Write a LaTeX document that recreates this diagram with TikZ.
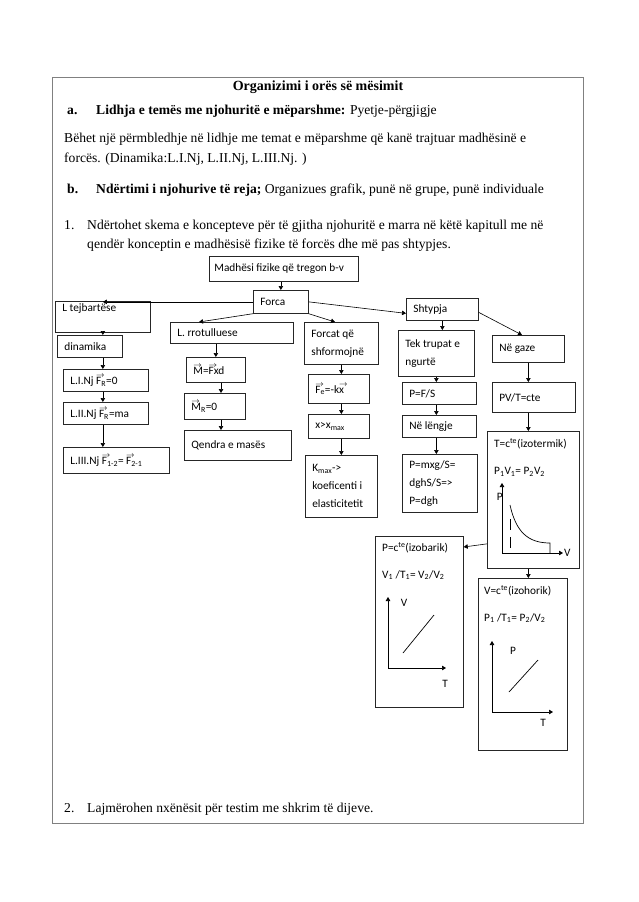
\documentclass[tikz,border=0pt]{standalone}
\usepackage{fontspec}
\setmainfont{Liberation Serif}
\newfontfamily\diagfont{Carlito}
\usetikzlibrary{arrows.meta}

\newcommand{\ovec}[1]{\rlap{\raisebox{0.62em}{\fontsize{8pt}{8pt}\selectfont$\rightarrow$}}#1}
\newcommand{\te}{\textsuperscript{te}}

\begin{document}
\begin{tikzpicture}[x=1pt, y=-1pt,
  box/.style={draw=black!85, line width=0.7pt, anchor=north west, align=flush left, inner xsep=7pt, inner ysep=0pt, font=\diagfont\fontsize{11.3pt}{18pt}\selectfont},
  lbl/.style={inner sep=0pt, font=\diagfont\fontsize{11.3pt}{12pt}\selectfont},
  body/.style={inner sep=0pt, anchor=base west, font=\fontsize{13.6pt}{16pt}\selectfont},
  arr/.style={-{Triangle[length=4pt,width=4.5pt]}, line width=0.6pt},
  axis/.style={{Triangle[length=4pt,width=4.5pt]}-{Triangle[length=4pt,width=4.5pt]}, line width=0.7pt}
]
  \useasboundingbox (0,0) rectangle (638,902);
  \draw[gray, line width=0.9pt] (52,77) rectangle (583,823);

  % text of the page
  \node[body, anchor=base, font=\fontsize{14pt}{16pt}\selectfont] (title) at (318,90) {\textbf{Organizimi i orës së mësimit}};
  \node[body] (itema) at (67,114) {\makebox[29pt][l]{\textbf{a.}}\textbf{Lidhja e temës me njohuritë e mëparshme:} Pyetje-përgjigje};
  \node[body] (para1) at (64,142) {Bëhet një përmbledhje në lidhje me temat e mëparshme që kanë trajtuar madhësinë e};
  \node[body] (para2) at (64,162) {forcës. (Dinamika:L.I.Nj, L.II.Nj, L.III.Nj. )};
  \node[body] (itemb) at (67,193) {\makebox[29pt][l]{\textbf{b.}}\textbf{Ndërtimi i njohurive të reja;} Organizues grafik, punë në grupe, punë individuale};
  \node[body] (step1) at (64,229) {\makebox[23pt][l]{1.}Ndërtohet skema e koncepteve për të gjitha njohuritë e marra në këtë kapitull me në};
  \node[body] (step1b) at (87,248) {qendër konceptin e madhësisë fizike të forcës dhe më pas shtypjes.};
  \node[body] (step2) at (64,812) {\makebox[23pt][l]{2.}Lajmërohen nxënësit për testim me shkrim të dijeve.};

  % concept map
  \node[box, inner xsep=5pt, text width=139pt, minimum height=25pt] (mad) at (209,256) {Madhësi fizike që tregon b-v};
  \node[box, text width=41pt, minimum height=23pt] (forca) at (253,290) {Forca};
  \node[box, text width=81pt, minimum height=31pt] (tejb) at (55,301) {L tejbartëse\\\mbox{}};
  \node[box, text width=58pt, minimum height=22pt] (shtypja) at (406,298) {Shtypja};
  \node[box, text width=109pt, minimum height=21pt] (rrot) at (170,322) {L. rrotulluese};
  \node[box, text width=60pt, minimum height=42pt] (forcat) at (304,322) {Forcat që\\shformojnë};
  \node[box, text width=51pt, minimum height=22pt] (dinamika) at (57,335) {dinamika};
  \node[box, text width=62pt, minimum height=46pt] (tek) at (398,330) {Tek trupat e\\ngurtë};
  \node[box, text width=58pt, minimum height=27pt] (gaze) at (492,335) {Në gaze};
  \node[box, text width=45pt, minimum height=25pt] (m) at (186,357) {\ovec{M}=\ovec{F}xd};
  \node[box, text width=71pt, minimum height=22pt] (l1) at (63,369) {L.I.Nj \ovec{F}\textsubscript{R}=0};
  \node[box, text width=47pt, minimum height=29pt] (fe) at (308,374) {\ovec{F}\textsubscript{e}=-k\ovec{x}};
  \node[box, text width=60pt, minimum height=22pt] (pfs) at (402,382) {P=F/S};
  \node[box, text width=69pt, minimum height=30pt] (pvt) at (492,382) {PV/T=cte};
  \node[box, text width=47pt, minimum height=26pt] (mr) at (184,393) {\ovec{M}\textsubscript{R}=0};
  \node[box, text width=71pt, minimum height=22pt] (l2) at (63,402) {L.II.Nj \ovec{F}\textsubscript{R}=ma};
  \node[box, text width=47pt, minimum height=24pt] (xmax) at (308,414) {x>x\textsubscript{max}};
  \node[box, text width=60pt, minimum height=22pt] (leng) at (402,415) {Në lëngje};
  \node[box, text width=93pt, minimum height=30pt] (qend) at (184,430) {Qendra e masës};
  \node[box, text width=92pt, minimum height=26pt] (l3) at (63,447) {L.III.Nj \ovec{F}\textsubscript{1-2}= \ovec{F}\textsubscript{2-1}};
  \node[box, text width=58pt, minimum height=62pt] (kmax) at (305,455) {K\textsubscript{max}->\\koeficenti i\\elasticitetit};
  \node[box, text width=61pt, minimum height=58pt] (pmxg) at (402,454) {P=mxg/S=\\dghS/S=>\\P=dgh};
  \node[box, inner sep=0pt, minimum width=92pt, minimum height=137pt] (izot) at (487,431) {};
  \node[box, inner sep=0pt, minimum width=88pt, minimum height=171pt] (izob) at (375,536) {};
  \node[box, inner sep=0pt, minimum width=89pt, minimum height=172pt] (izoh) at (478,578) {};

  % izotermik
  \node[lbl, anchor=west] (izot-a) at (494,444) {T=c\te(izotermik)};
  \node[lbl, anchor=west] (izot-b) at (494,472) {P\textsubscript{1}V\textsubscript{1}= P\textsubscript{2}V\textsubscript{2}};
  \draw[axis] (502,483) -- (502,553) -- (563,553);
  \node[lbl, anchor=east] (izot-p) at (503,497) {P};
  \node[lbl, anchor=west] (izot-v) at (564,553) {V};
  \draw[line width=0.7pt] (510,505) .. controls (516,532) and (528,543) .. (550,543) -- (550,553);
  \draw[line width=0.7pt] (510,519) -- (510,530) (510,537) -- (510,548);

  % izobarik
  \node[lbl, anchor=west] (izob-a) at (382,548) {P=c\te(izobarik)};
  \node[lbl, anchor=west] (izob-b) at (382,575) {V\textsubscript{1} /T\textsubscript{1}= V\textsubscript{2}/V\textsubscript{2}};
  \draw[axis] (388,597) -- (388,668) -- (446,668);
  \node[lbl] (izob-v) at (404,603) {V};
  \node[lbl] (izob-t) at (445,684) {T};
  \draw[line width=0.7pt] (403,653) -- (434,615);

  % izohorik
  \node[lbl, anchor=west] (izoh-a) at (484,591) {V=c\te(izohorik)};
  \node[lbl, anchor=west] (izoh-b) at (484,618) {P\textsubscript{1} /T\textsubscript{1}= P\textsubscript{2}/V\textsubscript{2}};
  \draw[axis] (492,641) -- (492,712) -- (553,712);
  \node[lbl] (izoh-p) at (513,651) {P};
  \node[lbl] (izoh-t) at (543,723) {T};
  \draw[line width=0.7pt] (509,692) -- (538,660);

  % connectors
  \coordinate (colB) at (221,0);
  \draw[arr] (mad.south -| forca.north) -- (forca.north);
  \draw[arr] (forca.west) -- (forca.west -| tejb.north);
  \draw[arr] (forca.south west) -- ([xshift=29pt]rrot.north west);
  \draw[arr] (forca.south east) -- ([xshift=31pt]forcat.north west);
  \draw[arr] (forca.east) -- ([yshift=-4pt]shtypja.west);
  \draw[arr] (shtypja.south) -- (shtypja.south |- tek.north);
  \draw[arr] ([yshift=-3pt]shtypja.east) -- ([xshift=30pt]gaze.north west);

  \draw[arr] (tejb.south) -- (tejb.south |- dinamika.north);
  \draw[arr] (dinamika.south -| tejb.south) -- (l1.north -| tejb.south);
  \draw[arr] (l1.south -| tejb.south) -- (l2.north -| tejb.south);
  \draw[arr] (l2.south -| tejb.south) -- (l3.north -| tejb.south);

  \draw[arr] (rrot.south -| m.north) -- (m.north);
  \draw[arr] (m.south -| colB) -- (mr.north -| colB);
  \draw[arr] (mr.south -| colB) -- (qend.north -| colB);

  \draw[arr] (forcat.south) -- (forcat.south |- fe.north);
  \draw[arr] (fe.south -| forcat.south) -- (xmax.north -| forcat.south);
  \draw[arr] (xmax.south -| forcat.south) -- (kmax.north -| forcat.south);

  \draw[arr] (tek.south) -- (tek.south |- pfs.north);
  \draw[arr] (pfs.south -| tek.south) -- (leng.north -| tek.south);
  \draw[arr] (leng.south -| tek.south) -- (pmxg.north -| tek.south);

  \draw[arr] (gaze.south) -- (gaze.south |- pvt.north);
  \draw[arr] (pvt.south -| gaze.south) -- (izot.north -| gaze.south);
  \draw[arr] ([yshift=-44pt]izot.west) -- ([yshift=-11pt]izob.north east);
  \draw[arr] (izot.south -| gaze.south) -- (izoh.north -| gaze.south);
\end{tikzpicture}
\end{document}
